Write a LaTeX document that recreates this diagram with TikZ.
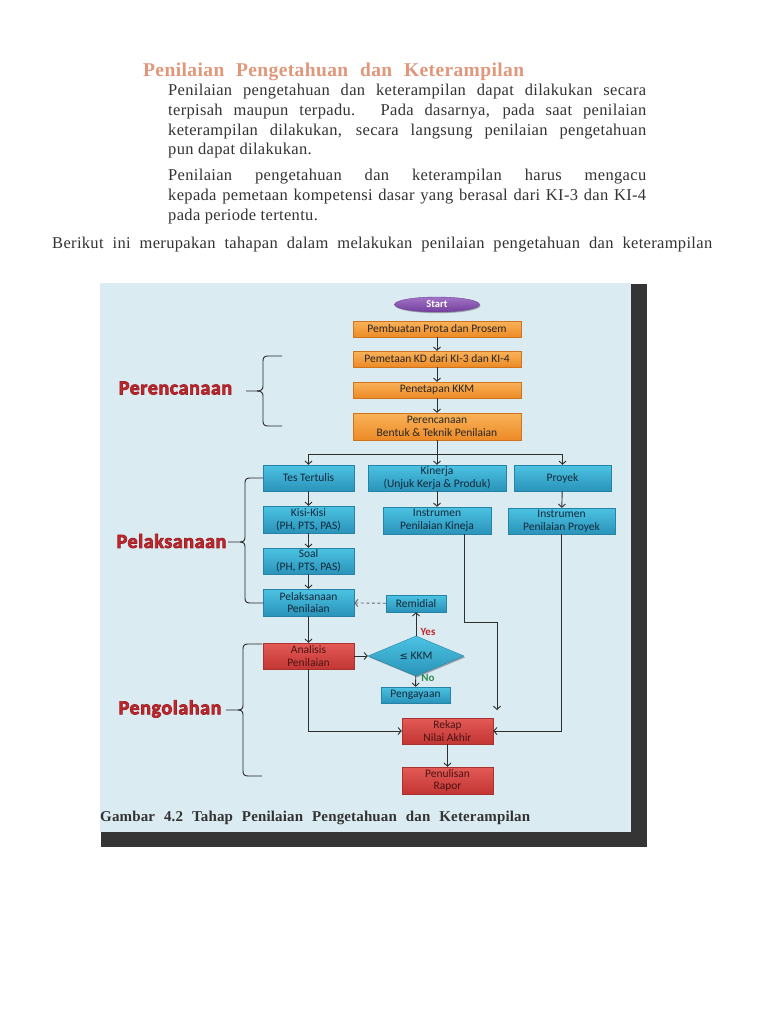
\documentclass[tikz,border=0pt]{standalone}
\usepackage{fontspec}
\setmainfont{Liberation Serif}
\newfontfamily\bodyfont{Liberation Serif}[LetterSpace=2]
\newfontfamily\titlefont{Liberation Serif}[LetterSpace=2]
\newfontfamily\capfont{Liberation Serif}[LetterSpace=1]
\newfontfamily\boxfont{Carlito}
\newfontfamily\labfont{Carlito}[LetterSpace=3]
\newfontfamily\symfont{DejaVu Sans}
\usetikzlibrary{arrows.meta,shapes.geometric,shadows}

\definecolor{bgblue}{HTML}{DAEBF2}
\definecolor{framec}{HTML}{353535}
\definecolor{orT}{HTML}{FAB35A}
\definecolor{orB}{HTML}{EC8A26}
\definecolor{orD}{HTML}{D0731A}
\definecolor{blT}{HTML}{4CC3E3}
\definecolor{blB}{HTML}{2A93B9}
\definecolor{blD}{HTML}{2483A6}
\definecolor{rdT}{HTML}{E35A57}
\definecolor{rdB}{HTML}{C23634}
\definecolor{rdD}{HTML}{A8302E}
\definecolor{puT}{HTML}{A173C6}
\definecolor{puB}{HTML}{733F9B}
\definecolor{titlec}{HTML}{E0977B}
\definecolor{labred}{HTML}{C0282D}
\definecolor{nogreen}{HTML}{2E8B57}
\definecolor{bodyc}{HTML}{333333}
\definecolor{linec}{HTML}{2E2E2E}
\definecolor{navyc}{HTML}{13283A}
\definecolor{maroonc}{HTML}{4A1414}

% thicken label glyphs with a dark red stroke (text render mode 2)
\newcommand{\heavytext}[1]{\special{pdf:literal direct 2 Tr 0.7 w 0.62 0.12 0.14 RG}#1\special{pdf:literal direct 0 Tr 0 0 0 RG}}

\tikzset{
  box/.style={rectangle, inner sep=0pt, align=center,
    font=\boxfont\fontsize{11.5}{12.7}\selectfont, draw, line width=0.4pt,
    drop shadow={shadow xshift=1.2pt, shadow yshift=-1.4pt, opacity=0.3, fill=black}},
  obox/.style={box, top color=orT, bottom color=orB, draw=orD, text=black!85},
  bbox/.style={box, top color=blT, bottom color=blB, draw=blD, text=navyc},
  rbox/.style={box, top color=rdT, bottom color=rdB, draw=rdD, text=maroonc},
  startnode/.style={ellipse, inner sep=0pt, top color=puT, bottom color=puB, draw=puB,
    line width=0.4pt, text=white, font=\boxfont\bfseries\fontsize{10.5}{12}\selectfont,
    drop shadow={shadow xshift=1pt, shadow yshift=-1.2pt, opacity=0.3, fill=black}},
  dianode/.style={diamond, inner sep=0pt, top color=blT, bottom color=blB, draw=blD,
    line width=0.4pt, text=navyc, font=\boxfont\fontsize{11.5}{13}\selectfont,
    drop shadow={shadow xshift=1.2pt, shadow yshift=-1.4pt, opacity=0.3, fill=black}},
  arr/.style={draw=linec, line width=0.9pt, -{Straight Barb[length=3.2pt,width=7pt]}},
  dasharr/.style={draw=gray!80!black, line width=0.9pt, dash pattern=on 3pt off 2.5pt,
    -{Straight Barb[length=3.2pt,width=7pt]}},
  plainline/.style={draw=linec, line width=0.9pt},
  bracec/.style={draw=black!85, line width=0.9pt},
  seclabel/.style={inner sep=0pt, text=labred, font=\labfont\bfseries\fontsize{20}{22}\selectfont},
  bodyline/.style={anchor=base west, inner sep=0pt, text=bodyc, font=\bodyfont\fontsize{16.5}{19}\selectfont},
  yesno/.style={inner sep=0pt, font=\boxfont\bfseries\fontsize{11}{12}\selectfont},
}

\begin{document}
\begin{tikzpicture}[x=1pt, y=-1pt]
\useasboundingbox (0,0) rectangle (768,1024);
\fill[white] (0,0) rectangle (768,1024);

% ---------- text above ----------
\node[anchor=base west, inner sep=0pt, text=titlec, font=\titlefont\bfseries\fontsize{19.5}{22}\selectfont]
  (title) at (143,77) {\makebox[381pt][s]{Penilaian Pengetahuan dan Keterampilan}};
\node[bodyline] (p1a) at (168,96) {\makebox[478pt][s]{Penilaian pengetahuan dan keterampilan dapat dilakukan secara}};
\node[bodyline] (p1b) at (168,116) {\makebox[478pt][s]{terpisah maupun terpadu. Pada dasarnya, pada saat penilaian}};
\node[bodyline] (p1c) at (168,136) {\makebox[478pt][s]{keterampilan dilakukan, secara langsung penilaian pengetahuan}};
\node[bodyline] (p1d) at (168,155) {pun dapat dilakukan.};
\node[bodyline] (p2a) at (168,181) {\makebox[478pt][s]{Penilaian pengetahuan dan keterampilan harus mengacu}};
\node[bodyline] (p2b) at (168,201) {\makebox[478pt][s]{kepada pemetaan kompetensi dasar yang berasal dari KI-3 dan KI-4}};
\node[bodyline] (p2c) at (168,221) {pada periode tertentu.};
\node[bodyline] (p3) at (52,248) {\makebox[660pt][s]{Berikut ini merupakan tahapan dalam melakukan penilaian pengetahuan dan keterampilan}};

% ---------- figure frame ----------
\fill[framec] (631,284) rectangle (647,847);
\fill[framec] (101,832) rectangle (647,847);
\fill[bgblue] (100,283) rectangle (631,832);

% ---------- nodes ----------
\node[startnode, minimum width=85pt, minimum height=15pt] (start) at (437,304.5) {Start};
\node[obox, minimum width=168pt, minimum height=16pt] (b1) at (437,329) {Pembuatan Prota dan Prosem};
\node[obox, minimum width=168pt, minimum height=16pt] (b2) at (437,359) {Pemetaan KD dari KI-3 dan KI-4};
\node[obox, minimum width=168pt, minimum height=16pt] (b3) at (437,390) {Penetapan KKM};
\node[obox, minimum width=168pt, minimum height=27pt] (b4) at (437,426.5) {Perencanaan\\Bentuk \& Teknik Penilaian};

\node[bbox, minimum width=91pt, minimum height=26pt] (tes) at (308.5,478) {Tes Tertulis};
\node[bbox, minimum width=138pt, minimum height=26pt] (kin) at (437,478) {Kinerja\\(Unjuk Kerja \& Produk)};
\node[bbox, minimum width=97pt, minimum height=26pt] (pro) at (562.5,478) {Proyek};
\node[bbox, minimum width=91pt, minimum height=27pt] (kisi) at (308.5,519.5) {Kisi-Kisi\\(PH, PTS, PAS)};
\node[bbox, minimum width=108pt, minimum height=27pt] (ikin) at (437,520.5) {Instrumen\\Penilaian Kineja};
\node[bbox, minimum width=107pt, minimum height=26pt] (ipro) at (561.5,521) {Instrumen\\Penilaian Proyek};
\node[bbox, minimum width=91pt, minimum height=26pt] (soal) at (308.5,561) {Soal\\(PH, PTS, PAS)};
\node[bbox, minimum width=91pt, minimum height=27pt] (pel) at (308.5,602.5) {Pelaksanaan\\Penilaian};
\node[bbox, minimum width=60pt, minimum height=17pt] (rem) at (416,603.5) {Remidial};
\node[rbox, minimum width=91pt, minimum height=26pt] (ana) at (308.5,656) {Analisis\\Penilaian};
\node[dianode, minimum width=96pt, minimum height=26pt] (dia) at (416,656) {{\symfont\fontsize{10}{12}\selectfont ≤} KKM};
\node[bbox, minimum width=69pt, minimum height=16pt] (peng) at (415.5,695) {Pengayaan};
\node[rbox, minimum width=91pt, minimum height=26pt] (rekap) at (447.5,731) {Rekap\\Nilai Akhir};
\node[rbox, minimum width=91pt, minimum height=27pt] (rapor) at (447.5,780.5) {Penulisan\\Rapor};

\node[yesno, text=labred] (yes) at (428,632) {Yes};
\node[yesno, text=nogreen] (no) at (428,677.5) {No};

% ---------- connectors ----------
\draw[arr] (b1) -- (b2);
\draw[arr] (b2) -- (b3);
\draw[arr] (b3) -- (b4);
\coordinate (brL) at (308.5,454);
\coordinate (brR) at (562.5,454);
\draw[plainline] (brL) -- (brR);
\draw[arr] (b4) -- (kin);
\draw[arr] (brL) -- (tes);
\draw[arr] (brR) -- (pro);
\draw[arr] (tes) -- (kisi);
\draw[arr] (kisi) -- (soal);
\draw[arr] (soal) -- (pel);
\draw[arr] (kin) -- (ikin);
\draw[arr] (pro) -- (ipro);
\draw[dasharr] (rem) -- (pel);
\draw[arr] (pel) -- (ana);
\draw[arr] (ana) -- (dia);
\draw[arr] (dia) -- (rem);
\draw[arr] (dia) -- (peng);
\coordinate (kA) at (497,622);
\coordinate (kB) at (497,710);
\draw[arr] ([xshift=27pt]ikin.south) |- (kA) -- (kB);
\draw[arr] (ipro.south) |- (rekap.east);
\draw[arr] (ana.south) |- (rekap.west);
\draw[arr] (rekap) -- (rapor);

% ---------- braces ----------
\draw[bracec] (282,356) -- (268,356) .. controls (264.5,356) and (263,357.5) .. (263,361) -- (263,386)
  .. controls (263,389.5) and (261,391) .. (257,391) -- (246,391);
\draw[bracec] (257,391) .. controls (261,391) and (263,392.5) .. (263,396) -- (263,421)
  .. controls (263,424.5) and (264.5,426) .. (268,426) -- (282,426);

\draw[bracec] (tes.west) -- (250,478) .. controls (246.5,478) and (245,479.5) .. (245,483) -- (245,537)
  .. controls (245,540.5) and (243.5,542) .. (240,542) -- (228,542);
\draw[bracec] (240,542) .. controls (243.5,542) and (245,543.5) .. (245,547) -- (245,598)
  .. controls (245,601.5) and (246.5,603) .. (250,603) -- (263,603);

\draw[bracec] (262,644) -- (248,644) .. controls (244.5,644) and (243,645.5) .. (243,649) -- (243,705)
  .. controls (243,708.5) and (241.5,710) .. (238,710) -- (226,710);
\draw[bracec] (238,710) .. controls (241.5,710) and (243,711.5) .. (243,715) -- (243,771)
  .. controls (243,774.5) and (244.5,776) .. (248,776) -- (262,776);

% ---------- caption ----------
\node[anchor=base west, inner sep=0pt, text=black!80, font=\capfont\bfseries\fontsize{15}{17}\selectfont]
  (caption) at (100,821.5) {\makebox[430pt][s]{Gambar 4.2 Tahap Penilaian Pengetahuan dan Keterampilan}};

% ---------- section labels ----------
\node[seclabel] (lab1) at (175.5,388) {\heavytext{Perencanaan}};
\node[seclabel] (lab2) at (171.5,541) {\heavytext{Pelaksanaan}};
\node[seclabel] (lab3) at (170,709) {\heavytext{Pengolahan}};
\end{tikzpicture}
\end{document}
